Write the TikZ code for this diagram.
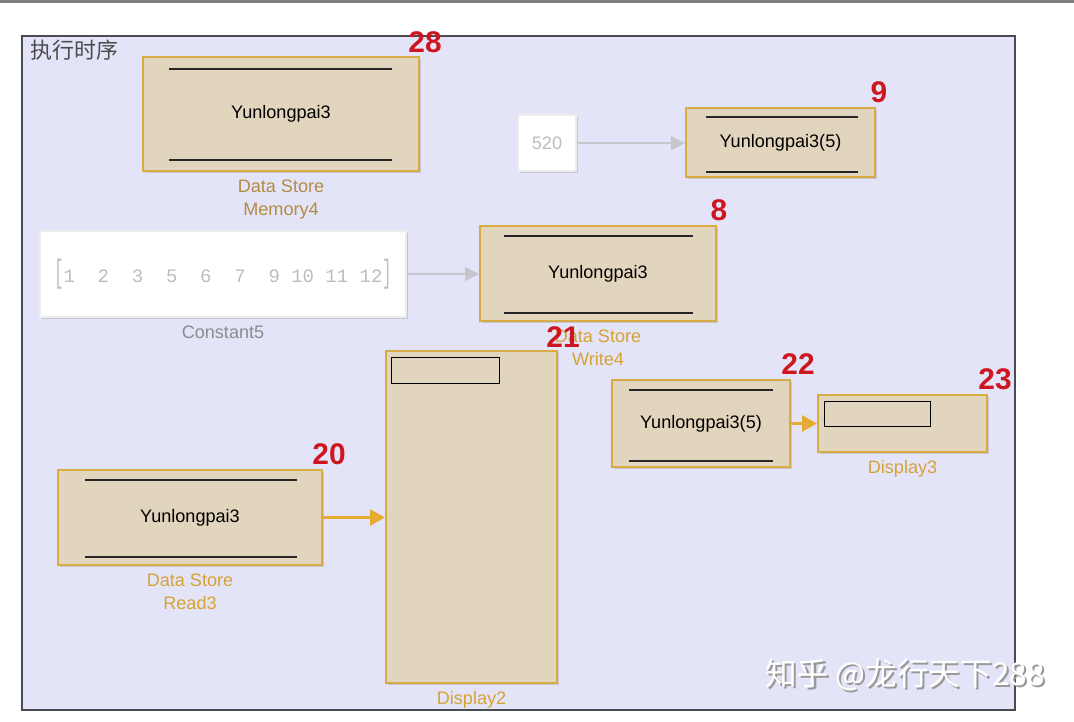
\documentclass[tikz,border=0pt]{standalone}
\usepackage{fontspec}
\setmainfont{Liberation Sans}
\setmonofont{Liberation Mono}
\newfontfamily\cjk{Noto Sans CJK SC}
\usetikzlibrary{arrows.meta, positioning, shadows}
\definecolor{canvasbg}{RGB}{228,228,249}
\definecolor{canvasedge}{RGB}{75,75,85}
\definecolor{blkfill}{RGB}{226,213,190}
\definecolor{blkedge}{RGB}{216,172,66}
\definecolor{lblgold}{RGB}{214,162,52}
\definecolor{lblbrown}{RGB}{178,140,64}
\definecolor{ordred}{RGB}{206,22,32}
\definecolor{constgray}{RGB}{188,188,194}
\definecolor{wiregray}{RGB}{198,198,204}
\definecolor{wiregold}{RGB}{228,172,48}

\begin{document}
\begin{tikzpicture}[
    x=0.02cm, y=-0.02cm,
    font=\fontsize{10.3}{13}\selectfont,
    wh/.style 2 args={minimum width=#1*0.02cm, minimum height=#2*0.02cm},
    blk/.style={draw=blkedge, line width=1.1pt, fill=blkfill, inner sep=0pt,
      drop shadow={shadow xshift=1.2pt, shadow yshift=-1.2pt, opacity=0.3}},
    constblk/.style={draw=white!85!gray, line width=0.6pt, fill=white, inner sep=0pt,
      text=constgray, drop shadow={shadow xshift=1.2pt, shadow yshift=-1.2pt, opacity=0.3}},
    screen/.style={draw=black, line width=0.6pt, inner sep=0pt, anchor=north west},
    bar/.style={draw=black!85, line width=0.7pt},
    lbl/.style={text=lblgold, align=center, inner sep=1pt},
    ordnum/.style={text=ordred, font=\fontsize{17}{17}\selectfont\bfseries, inner sep=0pt},
    gwire/.style={wiregray, line width=0.6pt, -{Triangle[length=0.28cm, width=0.28cm]}},
    ywire/.style={wiregold, line width=1.6pt, -{Triangle[length=0.3cm, width=0.32cm]}},
  ]

  \useasboundingbox (0,0) rectangle (1074,721);

  % --- window edge and canvas ---
  \fill[black!50] (0,0) rectangle (1074,3);
  \draw[canvasedge, fill=canvasbg, line width=0.6pt] (22,36) rectangle (1015,710);
  \node[anchor=north west, text=black!70, font=\cjk\fontsize{12.5}{14}\selectfont, inner sep=0pt] (title) at (30,40) {执行时序};

  % --- data store memory ---
  \node[blk, wh={276}{114}] (mem) at (281,114) {Yunlongpai3};
  \draw[bar] ([shift={(27,13)}]mem.north west) -- ([shift={(-28,13)}]mem.north east);
  \draw[bar] ([shift={(27,-12)}]mem.south west) -- ([shift={(-28,-12)}]mem.south east);
  \node[lbl, text=lblbrown, below=0.12cm of mem] (memlbl) {Data Store\\Memory4};
  \node[ordnum] (n28) at (425,42) {28};

  % --- 520 -> Yunlongpai3(5) ---
  \node[constblk, wh={58}{56}] (c520) at (547,143) {520};
  \node[blk, wh={189}{69}] (yl5) at (780.5,142.5) {Yunlongpai3(5)};
  \draw[bar] ([shift={(21,10)}]yl5.north west) -- ([shift={(-18,10)}]yl5.north east);
  \draw[bar] ([shift={(21,-6)}]yl5.south west) -- ([shift={(-18,-6)}]yl5.south east);
  \node[ordnum] (n9) at (879,92) {9};

  % --- Constant5 -> Data Store Write4 ---
  \node[constblk, wh={366}{86}, font=\ttfamily\fontsize{10.8}{13}\selectfont] (const5) at (223,274)
    {\scalebox{0.8}[1.7]{[}1~~2~~3~~5~~6~~7~~9~10~11~12\scalebox{0.8}[1.7]{]}};
  \node[lbl, text=black!45, below=0.12cm of const5] (const5lbl) {Constant5};
  \node[blk, wh={236}{95}] (dsw) at (598,273.5) {Yunlongpai3};
  \draw[bar] ([shift={(25,11)}]dsw.north west) -- ([shift={(-24,11)}]dsw.north east);
  \draw[bar] ([shift={(25,-9)}]dsw.south west) -- ([shift={(-24,-9)}]dsw.south east);
  \node[lbl, below=0.12cm of dsw] (dswlbl) {Data Store\\Write4};
  \node[ordnum] (n8) at (719,210) {8};

  % --- Data Store Read3 -> Display2 ---
  \node[blk, wh={171}{332}] (disp2) at (471.5,517) {};
  \node[screen, wh={108}{26}] (disp2scr) at ([shift={(6,7)}]disp2.north west) {};
  \node[lbl, below=0.1cm of disp2] (disp2lbl) {Display2};
  \node[ordnum] (n21) at (563,337) {21};
  \node[blk, wh={264}{95}] (dsr) at (190,517.5) {Yunlongpai3};
  \draw[bar] ([shift={(28,11)}]dsr.north west) -- ([shift={(-26,11)}]dsr.north east);
  \draw[bar] ([shift={(28,-9)}]dsr.south west) -- ([shift={(-26,-9)}]dsr.south east);
  \node[lbl, below=0.12cm of dsr] (dsrlbl) {Data Store\\Read3};
  \node[ordnum] (n20) at (329,454) {20};

  % --- Yunlongpai3(5) -> Display3 ---
  \node[blk, wh={178}{87}] (yl5b) at (701,423.5) {Yunlongpai3(5)};
  \draw[bar] ([shift={(18,11)}]yl5b.north west) -- ([shift={(-18,11)}]yl5b.north east);
  \draw[bar] ([shift={(18,-7)}]yl5b.south west) -- ([shift={(-18,-7)}]yl5b.south east);
  \node[ordnum] (n22) at (798,364) {22};
  \node[blk, wh={169}{57}] (disp3) at (902.5,423.5) {};
  \node[screen, wh={106}{25}] (disp3scr) at ([shift={(7,7)}]disp3.north west) {};
  \node[lbl, below=0.1cm of disp3] (disp3lbl) {Display3};
  \node[ordnum] (n23) at (995,379) {23};

  % --- signal lines ---
  \draw[gwire] (c520.east) -- (c520.east -| yl5.west);
  \draw[gwire] (const5.east) -- (const5.east -| dsw.west);
  \draw[ywire] (dsr.east) -- (dsr.east -| disp2.west);
  \draw[ywire] (yl5b.east) -- (yl5b.east -| disp3.west);

  % --- watermark ---
  \node[font=\cjk\fontsize{18}{20}\selectfont, inner sep=0pt] (mark) at (905,676)
    {\makebox[0pt][l]{\hspace{1.2pt}\raisebox{-1.2pt}{\color{black!40}知乎 @龙行天下288}}\color{white}知乎 @龙行天下288};

\end{tikzpicture}
\end{document}
